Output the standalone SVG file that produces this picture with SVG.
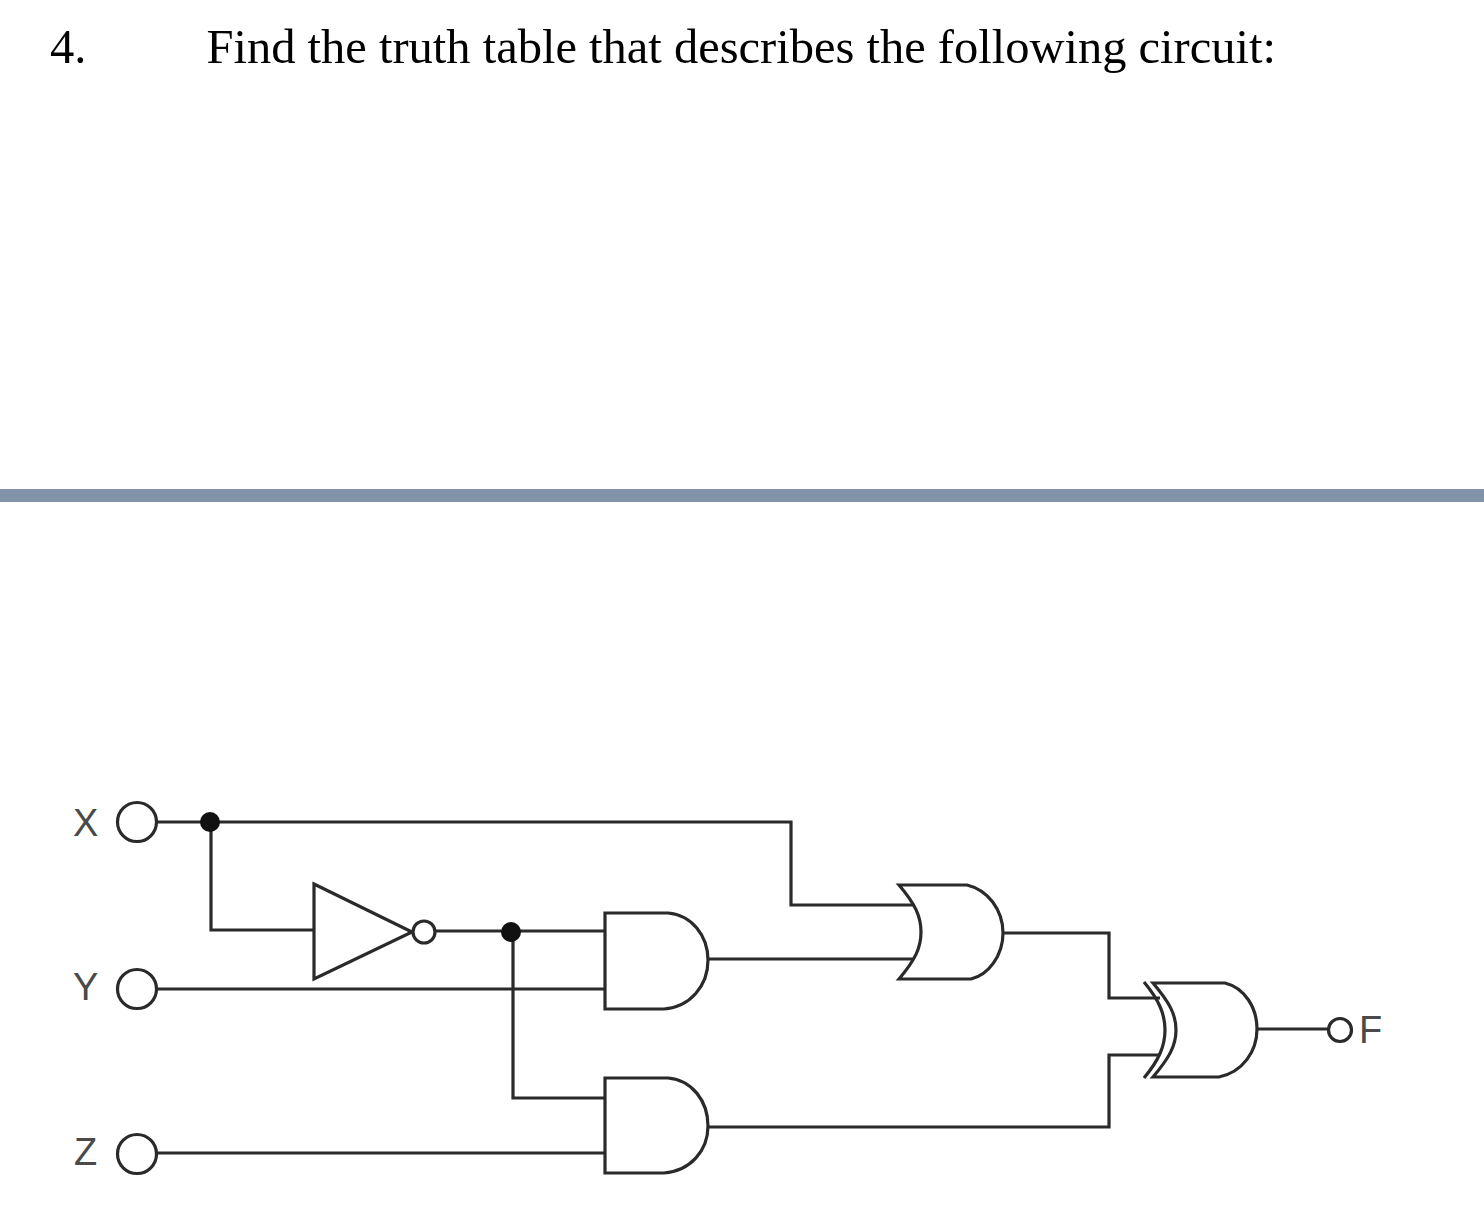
<svg xmlns="http://www.w3.org/2000/svg" width="1484" height="1222" viewBox="0 0 1484 1222">
<style>
.t{font-family:"Liberation Serif","Times New Roman",serif;font-size:48.5px;fill:#000}
.l{font-family:"Liberation Sans",Arial,sans-serif;font-size:38px;fill:#4a4a4a}
.s{fill:#fff;stroke:#2a2a2a;stroke-width:3.2;stroke-linejoin:miter}
.w{fill:none;stroke:#2a2a2a;stroke-width:3.2}
.j{fill:#111;stroke:none}
</style>
<rect width="1484" height="1222" fill="#fff"/>
<text id="number" class="t" x="50" y="63">4.</text>
<text id="question" class="t" x="206.500" y="63">Find the truth table that describes the following circuit:</text>
<rect id="divider" x="0" y="489" width="1484" height="13" fill="#8292a9"/>
<g id="connectors">
<path class="w" d="M157 822H791V905H915"/>
<path class="w" d="M211 822V930H314"/>
<path class="w" d="M435 931H605"/>
<path class="w" d="M513 932V1098H605"/>
<path class="w" d="M157 989H605"/>
<path class="w" d="M157 1153H605"/>
<path class="w" d="M708 959H915"/>
<path class="w" d="M708 1127H1109V1055H1160"/>
<path class="w" d="M1003 933H1109V998H1160"/>
<path class="w" d="M1257 1029H1328"/>
</g>
<g id="input-x"><text class="l" x="73" y="836">X</text><circle class="s" cx="137" cy="822" r="19.500"/></g>
<g id="input-y"><text class="l" x="73" y="1000">Y</text><circle class="s" cx="137" cy="989" r="19.500"/></g>
<g id="input-z"><text class="l" x="74" y="1165">Z</text><circle class="s" cx="137" cy="1154" r="19.500"/></g>
<g id="junction-1"><circle class="j" cx="210" cy="822" r="10"/></g>
<g id="junction-2"><circle class="j" cx="511" cy="932" r="10"/></g>
<g id="not-gate"><path class="s" d="M314 884L412 932L314 979Z"/><circle class="s" cx="424" cy="932" r="11"/></g>
<g id="and-1"><path class="s" d="M605 913H668C692 915 708 936 708 960C708 986 690 1007 664 1009H605Z"/></g>
<g id="and-2"><path class="s" d="M605 1078H668C692 1080 708 1101 708 1126C708 1151 690 1171 664 1173H605Z"/></g>
<g id="or-gate"><path class="s" d="M899 885H967C988 890 1003 910 1003 933C1003 956 988 975 971 979H899C915 960 921 948 921 932C921 916 915 904 899 885Z"/></g>
<g id="xor-gate"><path class="s" d="M1153 983H1225C1245 988 1257 1008 1257 1029C1257 1051 1243 1072 1219 1077H1153C1169 1058 1176 1046 1176 1030C1176 1014 1169 1002 1153 983Z"/><path class="w" d="M1144 982C1159 1000 1165 1014 1165 1030C1165 1046 1159 1060 1144 1078"/></g>
<g id="output-f"><circle class="s" cx="1340" cy="1030" r="11.500"/><text class="l" x="1359" y="1043">F</text></g>
</svg>
